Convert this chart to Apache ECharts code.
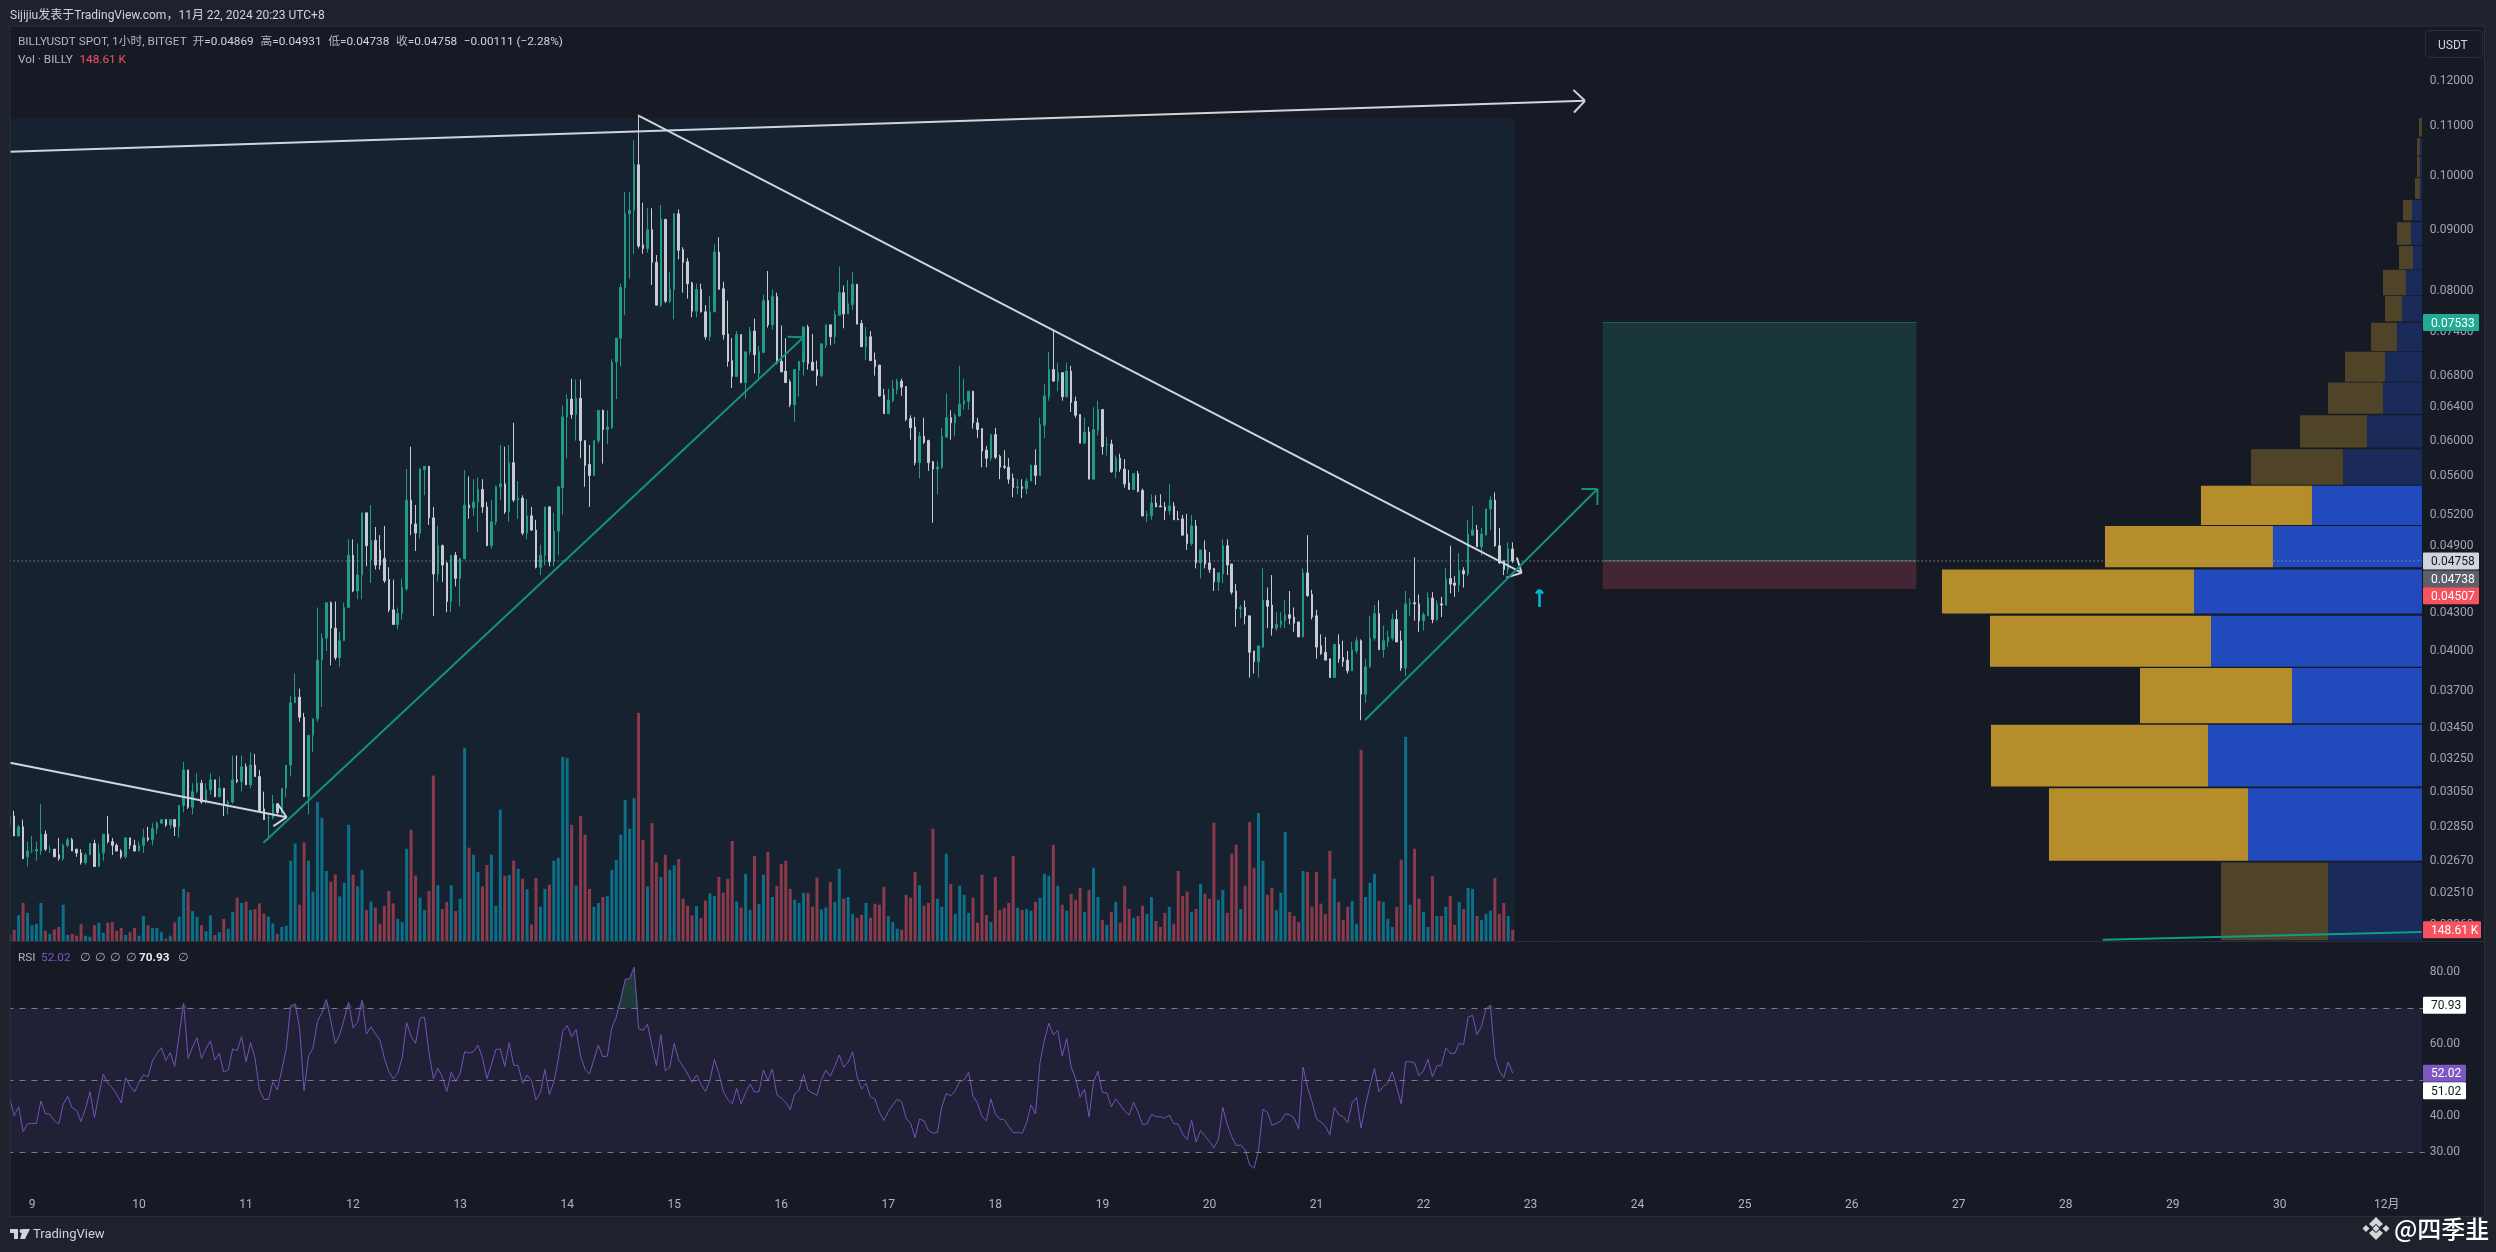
<!DOCTYPE html>
<html>
<head>
<meta charset="utf-8">
<style>html,body{margin:0;padding:0;background:#1e222d}#chart{width:2496px;height:1252px}</style>
<script src="https://cdn.jsdelivr.net/npm/echarts@6/dist/echarts.min.js"></script>
</head>
<body>
<div id="chart"></div>
<script>
// hourly bars, first bar is 5 hours before Nov 9 00:00
const firstHour = -5;
const slotCount = 542;
const dayTicks = ["9","10","11","12","13","14","15","16","17","18","19","20","21","22","23","24","25","26","27","28","29","30","12月"];

const opens = [.0286,.0291,.0280,.0285,.0269,.0272,.0272,.0272,.0281,.0273,
.0273,.0270,.0268,.0275,.0278,.0273,.0271,.0266,.0270,.0276,
.0264,.0271,.0281,.0277,.0275,.0272,.0269,.0279,.0275,.0272,
.0275,.0279,.0278,.0284,.0287,.0289,.0286,.0289,.0285,.0297,
.0318,.0296,.0305,.0310,.0299,.0306,.0312,.0302,.0307,.0298,
.0299,.0312,.0311,.0320,.0309,.0321,.0314,.0295,.0290,.0290,
.0298,.0293,.0307,.0321,.0362,.0366,.0352,.0302,.0340,.0351,
.0393,.0410,.0439,.0418,.0395,.0408,.0435,.0481,.0449,.0463,
.0522,.0477,.0495,.0486,.0478,.0459,.0433,.0421,.0430,.0451,
.0535,.0511,.0502,.0567,.0571,.0517,.0464,.0490,.0474,.0440,
.0481,.0460,.0478,.0530,.0527,.0533,.0546,.0528,.0490,.0513,
.0549,.0552,.0523,.0575,.0535,.0537,.0502,.0519,.0505,.0470,
.0481,.0528,.0475,.0504,.0548,.0628,.0650,.0631,.0651,.0600,
.0573,.0561,.0600,.0636,.0613,.0615,.0698,.0731,.0806,.0929,
.0935,.1021,.0875,.0869,.0901,.0846,.0779,.0919,.0785,.0803,
.0929,.0867,.0847,.0813,.0770,.0803,.0769,.0733,.0769,.0863,
.0804,.0737,.0700,.0679,.0736,.0671,.0712,.0741,.0683,.0711,
.0786,.0750,.0792,.0699,.0686,.0672,.0643,.0687,.0698,.0747,
.0698,.0688,.0680,.0721,.0750,.0733,.0764,.0798,.0766,.0780,
.0811,.0752,.0719,.0733,.0701,.0694,.0655,.0632,.0648,.0662,
.0673,.0666,.0626,.0616,.0575,.0605,.0600,.0576,.0568,.0570,
.0604,.0627,.0621,.0629,.0644,.0647,.0660,.0621,.0614,.0589,
.0580,.0607,.0582,.0571,.0570,.0558,.0548,.0549,.0547,.0555,
.0572,.0561,.0618,.0653,.0688,.0673,.0684,.0653,.0686,.0647,
.0631,.0597,.0610,.0557,.0612,.0637,.0595,.0596,.0565,.0580,
.0568,.0553,.0546,.0563,.0545,.0519,.0519,.0532,.0529,.0528,
.0524,.0529,.0516,.0516,.0501,.0492,.0509,.0474,.0486,.0474,
.0469,.0457,.0464,.0490,.0473,.0449,.0434,.0435,.0428,.0400,
.0392,.0403,.0441,.0437,.0418,.0421,.0424,.0429,.0427,.0423,
.0411,.0465,.0446,.0428,.0404,.0399,.0394,.0380,.0405,.0395,
.0393,.0385,.0400,.0408,.0368,.0388,.0410,.0430,.0401,.0407,
.0410,.0425,.0408,.0387,.0438,.0439,.0438,.0424,.0428,.0443,
.0425,.0438,.0437,.0460,.0456,.0454,.0467,.0464,.0500,.0505,
.0489,.0500,.0526,.0535,.0490,.0476,.0468,.04869];

const highs = [.0295,.0294,.0286,.0289,.0277,.0280,.0277,.0298,.0283,.0275,
.0273,.0279,.0276,.0279,.0279,.0273,.0273,.0271,.0276,.0278,
.0276,.0281,.0291,.0279,.0276,.0273,.0279,.0279,.0278,.0277,
.0284,.0285,.0287,.0288,.0289,.0289,.0289,.0289,.0297,.0323,
.0318,.0310,.0316,.0312,.0310,.0316,.0312,.0314,.0307,.0300,
.0327,.0327,.0327,.0322,.0329,.0328,.0318,.0305,.0293,.0303,
.0298,.0307,.0321,.0367,.0383,.0372,.0355,.0340,.0351,.0435,
.0414,.0439,.0440,.0440,.0415,.0439,.0496,.0496,.0492,.0522,
.0522,.0530,.0508,.0500,.0509,.0470,.0459,.0435,.0460,.0568,
.0593,.0530,.0569,.0571,.0571,.0528,.0509,.0491,.0475,.0481,
.0484,.0478,.0567,.0560,.0557,.0559,.0557,.0533,.0535,.0550,
.0595,.0593,.0595,.0621,.0555,.0540,.0536,.0528,.0515,.0491,
.0528,.0529,.0522,.0549,.0642,.0656,.0676,.0675,.0675,.0600,
.0595,.0600,.0636,.0637,.0636,.0702,.0731,.0812,.0969,.0969,
.1071,.1125,.0949,.0939,.0939,.0858,.0945,.0920,.0830,.0930,
.0937,.0871,.0853,.0815,.0812,.0812,.0779,.0793,.0876,.0888,
.0815,.0786,.0731,.0741,.0736,.0712,.0747,.0759,.0720,.0795,
.0832,.0803,.0798,.0749,.0731,.0675,.0688,.0699,.0747,.0750,
.0737,.0700,.0723,.0750,.0750,.0771,.0839,.0809,.0818,.0831,
.0811,.0757,.0747,.0741,.0711,.0694,.0663,.0663,.0674,.0676,
.0676,.0666,.0630,.0628,.0610,.0627,.0601,.0577,.0577,.0615,
.0657,.0636,.0632,.0693,.0676,.0660,.0660,.0627,.0614,.0594,
.0607,.0615,.0584,.0589,.0580,.0563,.0557,.0557,.0558,.0573,
.0590,.0627,.0669,.0712,.0742,.0697,.0684,.0697,.0693,.0653,
.0631,.0627,.0616,.0640,.0648,.0637,.0604,.0601,.0583,.0585,
.0579,.0567,.0563,.0566,.0547,.0524,.0541,.0540,.0541,.0533,
.0552,.0533,.0524,.0520,.0521,.0520,.0515,.0486,.0495,.0484,
.0469,.0465,.0496,.0496,.0473,.0455,.0437,.0441,.0428,.0400,
.0404,.0469,.0452,.0463,.0431,.0431,.0441,.0449,.0435,.0423,
.0469,.0500,.0450,.0433,.0413,.0411,.0394,.0405,.0413,.0408,
.0400,.0407,.0411,.0409,.0394,.0428,.0437,.0441,.0420,.0416,
.0430,.0433,.0416,.0449,.0443,.0479,.0446,.0431,.0448,.0448,
.0441,.0444,.0469,.0490,.0462,.0483,.0470,.0515,.0529,.0510,
.0507,.0526,.0539,.0543,.0507,.0476,.0493,.04931];

const lows = [.0284,.0280,.0280,.0268,.0264,.0271,.0267,.0270,.0272,.0271,
.0269,.0267,.0267,.0274,.0272,.0269,.0265,.0265,.0270,.0264,
.0264,.0267,.0276,.0270,.0272,.0268,.0268,.0273,.0272,.0272,
.0271,.0277,.0275,.0281,.0287,.0285,.0284,.0280,.0279,.0293,
.0295,.0292,.0304,.0298,.0298,.0303,.0302,.0302,.0291,.0292,
.0298,.0310,.0305,.0309,.0307,.0314,.0293,.0289,.0278,.0289,
.0292,.0292,.0302,.0314,.0362,.0349,.0302,.0292,.0329,.0349,
.0359,.0400,.0389,.0393,.0388,.0408,.0435,.0448,.0442,.0442,
.0471,.0456,.0468,.0468,.0456,.0431,.0421,.0417,.0425,.0449,
.0500,.0485,.0497,.0540,.0510,.0428,.0457,.0457,.0431,.0431,
.0453,.0436,.0477,.0516,.0519,.0503,.0522,.0490,.0487,.0510,
.0535,.0521,.0513,.0533,.0516,.0500,.0496,.0504,.0469,.0463,
.0472,.0471,.0471,.0481,.0520,.0580,.0626,.0600,.0580,.0549,
.0528,.0561,.0597,.0574,.0596,.0614,.0650,.0692,.0764,.0820,
.0860,.0869,.0860,.0862,.0810,.0779,.0776,.0782,.0782,.0758,
.0851,.0798,.0789,.0761,.0761,.0768,.0729,.0727,.0769,.0803,
.0729,.0692,.0664,.0679,.0670,.0650,.0708,.0683,.0675,.0711,
.0746,.0743,.0695,.0685,.0671,.0640,.0622,.0653,.0680,.0688,
.0687,.0667,.0678,.0717,.0721,.0723,.0764,.0745,.0766,.0772,
.0751,.0719,.0701,.0700,.0680,.0653,.0632,.0632,.0646,.0656,
.0654,.0623,.0601,.0572,.0558,.0596,.0566,.0512,.0541,.0568,
.0604,.0601,.0605,.0629,.0637,.0637,.0614,.0603,.0570,.0570,
.0577,.0579,.0557,.0568,.0552,.0538,.0541,.0537,.0541,.0555,
.0551,.0561,.0603,.0648,.0672,.0660,.0648,.0652,.0634,.0627,
.0597,.0597,.0557,.0557,.0606,.0584,.0583,.0564,.0558,.0565,
.0548,.0546,.0546,.0543,.0518,.0513,.0515,.0528,.0528,.0515,
.0520,.0515,.0515,.0500,.0486,.0490,.0469,.0460,.0469,.0465,
.0449,.0449,.0456,.0463,.0446,.0419,.0426,.0421,.0380,.0383,
.0380,.0402,.0418,.0412,.0416,.0418,.0418,.0421,.0415,.0411,
.0411,.0444,.0425,.0394,.0397,.0393,.0380,.0380,.0391,.0388,
.0383,.0385,.0398,.0350,.0362,.0387,.0408,.0401,.0395,.0403,
.0408,.0407,.0385,.0381,.0428,.0424,.0415,.0416,.0428,.0422,
.0424,.0427,.0437,.0447,.0444,.0448,.0452,.0462,.0500,.0489,
.0481,.0500,.0505,.0489,.0473,.0463,.0464,.04738];

const closes = [.0291,.0280,.0285,.0268,.0272,.0272,.0273,.0281,.0273,.0273,
.0269,.0268,.0275,.0278,.0272,.0271,.0266,.0270,.0276,.0264,
.0271,.0281,.0277,.0275,.0272,.0269,.0279,.0275,.0272,.0275,
.0279,.0278,.0284,.0287,.0289,.0286,.0289,.0285,.0297,.0318,
.0296,.0305,.0310,.0299,.0306,.0312,.0302,.0307,.0298,.0299,
.0312,.0311,.0320,.0309,.0321,.0314,.0294,.0289,.0290,.0298,
.0293,.0307,.0321,.0362,.0366,.0352,.0302,.0340,.0351,.0393,
.0410,.0439,.0418,.0395,.0408,.0435,.0481,.0449,.0463,.0522,
.0490,.0495,.0472,.0472,.0458,.0433,.0421,.0430,.0452,.0535,
.0511,.0502,.0568,.0571,.0517,.0464,.0490,.0472,.0440,.0481,
.0460,.0478,.0530,.0527,.0533,.0546,.0528,.0490,.0513,.0549,
.0552,.0523,.0575,.0535,.0537,.0502,.0519,.0505,.0470,.0481,
.0528,.0475,.0504,.0549,.0628,.0650,.0631,.0651,.0600,.0572,
.0561,.0600,.0636,.0613,.0616,.0698,.0731,.0806,.0929,.0935,
.1021,.0873,.0869,.0901,.0846,.0779,.0919,.0785,.0803,.0929,
.0866,.0846,.0812,.0770,.0803,.0769,.0733,.0769,.0863,.0803,
.0736,.0699,.0679,.0736,.0671,.0712,.0741,.0708,.0712,.0786,
.0750,.0792,.0697,.0685,.0671,.0643,.0688,.0699,.0747,.0696,
.0687,.0680,.0723,.0750,.0733,.0765,.0798,.0766,.0781,.0811,
.0751,.0719,.0733,.0700,.0692,.0654,.0632,.0649,.0663,.0673,
.0665,.0625,.0615,.0575,.0605,.0598,.0575,.0568,.0570,.0605,
.0627,.0621,.0630,.0644,.0648,.0660,.0621,.0613,.0588,.0580,
.0607,.0581,.0570,.0570,.0557,.0548,.0549,.0547,.0555,.0572,
.0561,.0619,.0654,.0688,.0673,.0684,.0653,.0686,.0646,.0630,
.0597,.0610,.0557,.0613,.0637,.0593,.0596,.0565,.0580,.0568,
.0552,.0546,.0563,.0544,.0519,.0520,.0532,.0528,.0528,.0524,
.0529,.0515,.0515,.0500,.0492,.0509,.0474,.0486,.0473,.0468,
.0457,.0465,.0490,.0472,.0448,.0434,.0435,.0428,.0399,.0392,
.0404,.0441,.0436,.0418,.0421,.0424,.0429,.0426,.0422,.0411,
.0465,.0445,.0427,.0403,.0398,.0393,.0380,.0405,.0394,.0392,
.0385,.0401,.0408,.0368,.0388,.0410,.0430,.0401,.0408,.0411,
.0425,.0407,.0387,.0438,.0439,.0438,.0424,.0429,.0443,.0425,
.0438,.0437,.0460,.0455,.0454,.0467,.0464,.0501,.0505,.0489,
.0501,.0526,.0535,.0490,.0474,.0468,.0487,.04758];

// volume in thousands
const volumes = [79,149,339,501,371,209,227,501,135,93,
153,186,478,79,93,70,223,70,56,209,
241,107,241,251,135,172,79,116,172,70,
329,209,172,172,116,32,70,246,320,687,
645,394,320,209,130,339,79,116,292,162,
385,571,501,520,408,418,496,362,325,232,
93,186,200,1058,1285,478,1299,1058,650,1833,
1624,923,780,877,589,766,1531,872,719,937,
408,520,441,227,464,659,496,292,251,1216,
1466,863,571,408,659,2181,733,422,515,733,
394,557,2547,1230,1137,909,719,1002,1137,464,
1731,858,872,1058,951,821,682,218,831,450,
687,742,1058,1095,2427,2413,1531,728,1647,1401,
687,450,501,580,594,937,1067,1401,1861,1480,
1884,3007,1332,719,1554,1035,844,1137,937,998,
1081,557,464,339,459,302,534,626,594,844,
636,821,1318,520,441,886,408,1123,487,872,
1174,580,728,1016,1058,687,543,501,636,636,
450,835,418,441,780,515,951,557,580,357,
306,343,501,306,492,478,715,329,251,162,
148,608,571,909,738,464,501,1480,557,450,
1151,752,357,728,608,371,571,241,872,343,
251,844,408,436,501,1123,436,408,422,399,
515,571,886,858,1267,728,478,399,622,543,
701,385,673,965,580,278,213,385,515,241,
728,422,306,329,464,357,580,264,186,371,
450,227,923,594,650,385,422,752,622,557,
1559,543,673,371,1151,1267,422,728,1568,965,
1689,1058,608,701,408,636,1438,385,329,251,
923,909,450,909,492,357,1188,821,515,278,
450,529,227,2520,580,766,886,529,515,292,
186,450,1072,2691,478,1216,557,385,186,858,
329,329,450,594,213,515,422,701,687,329,
278,357,399,831,357,501,329,148.61];

const rsi = [45.1,40.2,42.7,35.8,38.0,38.0,38.1,44.3,40.8,40.6,
38.9,37.9,43.4,45.6,42.4,41.7,38.6,42.2,46.9,39.7,
46.1,51.8,49.2,48.0,46.1,43.8,50.8,48.5,46.8,49.5,
51.6,51.0,55.4,57.5,59.1,55.6,57.7,53.9,62.7,71.5,
56.1,59.3,61.9,56.1,58.8,61.0,55.7,57.5,52.3,52.9,
58.8,58.3,62.2,55.2,60.5,56.3,47.3,44.8,44.7,49.6,
47.4,52.9,58.8,70.7,71.3,64.6,47.1,56.8,59.0,66.4,
68.8,72.5,66.6,60.3,62.7,67.1,71.7,64.6,66.1,72.3,
62.9,64.9,62.9,61.2,56.3,52.4,50.5,52.0,56.3,66.1,
62.2,60.3,67.3,67.6,57.8,50.5,53.4,51.0,46.9,52.3,
49.7,52.0,58.0,57.6,58.0,59.8,56.3,50.5,54.4,58.6,
58.8,53.9,60.5,54.2,54.2,49.2,51.5,50.0,44.6,46.6,
53.1,46.1,49.5,55.9,63.7,65.3,62.2,64.2,56.8,53.1,
51.8,55.9,59.8,56.6,56.8,64.6,67.6,72.5,78.1,78.3,
81.5,64.4,63.9,65.6,59.8,54.1,62.7,52.7,53.7,60.3,
55.7,53.9,51.8,49.5,51.5,49.0,46.9,50.0,55.9,52.0,
46.9,44.8,43.5,47.8,43.5,46.6,49.0,46.8,46.9,52.9,
50.0,53.1,46.1,45.1,43.9,41.9,46.3,47.3,51.7,47.3,
46.5,45.9,50.2,52.9,51.2,53.9,57.1,53.7,55.1,58.0,
51.0,47.6,49.2,45.4,44.9,41.2,38.9,41.4,43.2,44.8,
44.1,39.5,38.1,34.1,39.3,38.8,36.1,35.4,35.5,42.7,
46.4,45.7,47.1,49.7,50.2,52.3,45.6,43.7,40.0,38.8,
44.9,40.7,39.3,39.1,37.3,35.5,35.6,35.3,38.3,43.2,
40.7,54.9,61.2,65.9,62.7,63.9,56.8,61.7,53.7,50.5,
45.4,47.6,39.9,49.5,52.6,46.6,46.6,42.7,44.9,43.2,
41.5,40.4,43.9,41.2,37.8,37.9,40.6,40.0,39.9,39.5,
40.4,38.0,37.9,35.1,33.6,39.0,32.9,36.1,34.6,33.1,
31.3,33.6,42.5,37.8,34.4,31.9,32.1,30.7,26.6,25.6,
30.5,42.0,41.2,37.6,38.0,38.8,40.7,40.5,39.5,36.6,
53.7,48.0,44.1,39.3,38.5,37.3,34.9,42.5,40.5,39.9,
38.3,43.8,45.3,36.8,43.2,48.5,53.4,46.9,48.3,49.3,
52.4,48.0,43.5,55.2,55.2,54.9,51.3,52.7,55.9,51.0,
54.1,54.1,59.0,57.6,57.5,60.3,60.0,67.6,68.1,62.7,
65.1,69.8,70.9,56.6,52.6,50.8,55.1,52.02];

const priceTicks = [0.12,0.11,0.10,0.09,0.08,0.074,0.068,0.064,0.06,0.056,0.052,0.049,0.043,0.04,0.037,0.0345,0.0325,0.0305,0.0285,0.0267,0.0251,0.0236];
const rsiTicks = [80,60,40,30];
const rsiLevels = [70,50,30];

// volume profile rows, top to bottom
const vpHigh = [.1117,.1075,.1037,.0995,.0954,.0914,.0873,.0834,.0793,.0753,.0712,.0671,.0630,.0590,.0550,.0509,.0468,.0428,.0387,.0347,.0307,.0266];
const vpLow = [.1078,.1039,.0997,.0956,.0917,.0875,.0835,.0794,.0755,.0713,.0672,.0632,.0592,.0551,.0510,.0470,.0430,.0388,.0348,.0308,.0267,.0229];
const vpUp = [0,.2,.2,.2,1.0,1.1,.9,1.6,2.0,2.5,3.7,3.9,5.5,7.9,11.0,14.9,22.8,21.1,13.0,21.4,17.4,9.4];
const vpDown = [.3,.3,.3,.5,.9,1.4,1.4,2.3,1.7,2.6,4.0,5.5,6.7,9.2,11.1,16.8,25.2,22.1,15.2,21.7,19.9,10.7];
const valueAreaHigh = 0.0550;
const valueAreaLow = 0.0267;

// drawings, [hour, price] pairs
const ceilingLine = [[-4.9,.1047],[348.2,.1155]];
const fallingLine = [[136.1,.1122],[334,.04651]];
const earlyDownLine = [[-4.9,.03225],[57.1,.02903]];
const rallyLine = [[51.9,.02764],[173,.07323]];
const reboundLine = [[298.9,.03502],[351,.05466]];
const volMaLine = [[464.3,.02292],[535.8,.02327]];
const upMarker = [[338,.04354],[338,.0450]];
const lastPriceLine = [[-5,.04758],[536,.04758]];
const rangeHours = [-5.5,332.5];
const rangeTop = .1117;
const rangeBottom = .02287;
const positionHours = [352.2,422.5];
const targetPrice = .07533;
const entryPrice = .04758;
const stopPrice = .04507;

const barColors = { up: "#1f9b87", down: "#c8cad2", volUp: "#0c7088", volDown: "#8a3a4b" };

const chart = echarts.init(document.getElementById("chart"));

const categories = [];
for (let i = 0; i < slotCount; i++) categories.push(String(firstHour + i));

const candleData = opens.map((o, i) => [o, closes[i], lows[i], highs[i]]);

const drawings = [
  { pts: [[positionHours[0], targetPrice], [positionHours[1], targetPrice]], color: "#1e5f5a", width: 1 },
  { pts: [[positionHours[0], entryPrice], [positionHours[1], entryPrice]], color: "#5c6773", width: 1 },
  { pts: lastPriceLine, color: "#b2b5be", width: 1, dash: [1, 3] },
  { pts: ceilingLine, color: "#d1d4dc", width: 2, arrow: true },
  { pts: fallingLine, color: "#d1d4dc", width: 2, arrow: true },
  { pts: earlyDownLine, color: "#d1d4dc", width: 2, arrow: true },
  { pts: rallyLine, color: "#12917f", width: 2, arrow: true },
  { pts: reboundLine, color: "#12917f", width: 2, arrow: true },
  { pts: volMaLine, color: "#0f9d86", width: 2 },
  { pts: upMarker, color: "#00bcd4", width: 2.5, arrow: true, head: 5 },
];

function renderDrawing(params, api) {
  const d = drawings[params.dataIndex];
  const a = api.coord([api.value(0), api.value(1)]);
  const b = api.coord([api.value(2), api.value(3)]);
  const style = { stroke: d.color, lineWidth: d.width, lineDash: d.dash || null, fill: null };
  const children = [{ type: "line", shape: { x1: a[0], y1: a[1], x2: b[0], y2: b[1] }, style: style }];
  if (d.arrow) {
    const ang = Math.atan2(b[1] - a[1], b[0] - a[0]);
    const len = d.head || 16;
    [Math.PI * 0.75, -Math.PI * 0.75].forEach((off) => {
      children.push({
        type: "line",
        shape: { x1: b[0], y1: b[1], x2: b[0] + len * Math.cos(ang + off), y2: b[1] + len * Math.sin(ang + off) },
        style: style,
      });
    });
  }
  return { type: "group", children: children };
}

function renderProfile(params, api) {
  const top = api.coord([0, api.value(1)]);
  const bottom = api.coord([0, api.value(0)]);
  const mid = api.coord([api.value(2), api.value(1)]);
  const left = api.coord([api.value(2) + api.value(3), api.value(1)]);
  const inArea = api.value(1) <= valueAreaHigh && api.value(0) >= valueAreaLow;
  return {
    type: "group",
    children: [
      { type: "rect", shape: { x: mid[0], y: top[1], width: top[0] - mid[0], height: bottom[1] - top[1] }, style: { fill: inArea ? "#214bbd" : "#1a2b5a" } },
      { type: "rect", shape: { x: left[0], y: top[1], width: mid[0] - left[0], height: bottom[1] - top[1] }, style: { fill: inArea ? "#b58e2b" : "#4f4428" } },
    ],
  };
}

function renderBox(params, api) {
  const a = api.coord([api.value(0), api.value(2)]);
  const b = api.coord([api.value(1), api.value(3)]);
  return { type: "rect", shape: { x: a[0], y: a[1], width: b[0] - a[0], height: b[1] - a[1] }, style: { fill: api.value(4) === 0 ? "#162230" : api.value(4) === 1 ? "#193639" : "#442533" } };
}

// value tags on the right scale, shift moves stacked tags apart
function tagSeries(xIdx, yIdx, tags, width) {
  return {
    type: "custom",
    xAxisIndex: xIdx,
    yAxisIndex: yIdx,
    z: 12,
    silent: true,
    clip: false,
    encode: { x: 0, y: 1 },
    data: tags.map((t) => [0, t.value]),
    renderItem: function (params, api) {
      const t = tags[params.dataIndex];
      const p = api.coord([0, api.value(1)]);
      const y = p[1] + (t.shift || 0);
      return {
        type: "group",
        children: [
          { type: "rect", shape: { x: 2423, y: y - 8.5, width: width, height: 17, r: 1 }, style: { fill: t.bg } },
          { type: "text", style: { x: 2431, y: y + 1, text: t.text, fill: t.fg, font: "12px Roboto", textVerticalAlign: "middle" } },
        ],
      };
    },
  };
}

const priceTags = [
  { value: targetPrice, text: "0.07533", bg: "#22ab94", fg: "#fff" },
  { value: entryPrice, text: "0.04758", bg: "#d1d4dc", fg: "#131722" },
  { value: .04738, text: "0.04738", bg: "#5d606b", fg: "#fff", shift: 16 },
  { value: stopPrice, text: "0.04507", bg: "#f7525f", fg: "#fff", shift: 6.6 },
];
const volTags = [{ value: volumes[volumes.length - 1], text: "148.61 K", bg: "#f7525f", fg: "#fff" }];
const rsiTags = [
  { value: 70.93, text: "70.93", bg: "#fff", fg: "#131722" },
  { value: 52.02, text: "52.02", bg: "#7e57c2", fg: "#fff" },
  { value: 51.02, text: "51.02", bg: "#fff", fg: "#131722", shift: 14 },
];

const legendRich = {
  g: { fill: "#b2b5be", font: "11.8px Roboto, 'Noto Sans CJK SC'" },
  v: { fill: "#d1d4dc", font: "11.8px Roboto, 'Noto Sans CJK SC'" },
  r: { fill: "#f7525f", font: "11.8px Roboto" },
};

// RSI legend items placed one by one
const rsiLegend = [
  { x: 18, text: "RSI", fill: "#b2b5be" },
  { x: 41, text: "52.02", fill: "#7e57c2" },
  { x: 80, text: "∅", fill: "#b2b5be" },
  { x: 95, text: "∅", fill: "#b2b5be" },
  { x: 110, text: "∅", fill: "#b2b5be" },
  { x: 126, text: "∅", fill: "#b2b5be" },
  { x: 139, text: "70.93", fill: "#e8e9ee", weight: "bold " },
  { x: 178, text: "∅", fill: "#b2b5be" },
];

const option = {
  backgroundColor: "#1e222d",
  animation: false,
  grid: [
    { left: 7.47, top: 26, width: 2417.3, height: 915 },
    { left: 7.47, top: 641, width: 2417.3, height: 300 },
    { left: 7.47, top: 942, width: 2417.3, height: 253 },
  ],
  xAxis: [
    { type: "category", gridIndex: 0, data: categories, show: false },
    { type: "value", gridIndex: 0, min: firstHour - 0.5, max: firstHour + slotCount - 0.5, show: false },
    { type: "value", gridIndex: 0, inverse: true, min: -0.28, max: 241.45, show: false },
    { type: "category", gridIndex: 1, data: categories, show: false },
    {
      type: "category",
      gridIndex: 2,
      data: categories,
      axisLine: { show: false },
      axisTick: { show: false },
      axisLabel: {
        color: "#b2b5be",
        fontFamily: "Roboto, 'Noto Sans CJK SC'",
        fontSize: 12,
        margin: 3.5,
        interval: (idx) => (idx + firstHour) % 24 === 0,
        formatter: (val) => dayTicks[Number(val) / 24] || "",
      },
    },
  ],
  yAxis: [
    {
      type: "log",
      gridIndex: 0,
      min: 0.02287,
      max: 0.13342,
      position: "right",
      z: 6,
      axisLine: { show: false },
      axisTick: { show: false },
      splitLine: { show: false },
      axisLabel: {
        color: "#a3a6af",
        fontFamily: "Roboto",
        fontSize: 12,
        margin: 5,
        padding: [3, 0, 0, 0],
        customValues: priceTicks,
        formatter: (v) => Number(v).toFixed(5),
      },
    },
    { type: "value", gridIndex: 1, min: 0, max: 3954, show: false },
    {
      type: "value",
      gridIndex: 2,
      min: 18.19,
      max: 88.47,
      position: "right",
      z: 6,
      axisLine: { show: false },
      axisTick: { show: false },
      splitLine: { show: false },
      axisLabel: {
        color: "#a3a6af",
        fontFamily: "Roboto",
        fontSize: 12,
        margin: 5,
        padding: [3, 0, 0, 0],
        customValues: rsiTicks,
        formatter: (v) => Number(v).toFixed(2),
      },
    },
  ],
  series: [
    {
      type: "custom",
      xAxisIndex: 1,
      yAxisIndex: 0,
      z: 1,
      silent: true,
      encode: { x: [0, 1], y: [2, 3] },
      data: [
        [rangeHours[0], rangeHours[1], rangeTop, rangeBottom, 0],
        [positionHours[0], positionHours[1], targetPrice, entryPrice, 1],
        [positionHours[0], positionHours[1], entryPrice, stopPrice, 2],
      ],
      renderItem: renderBox,
    },
    {
      type: "custom",
      xAxisIndex: 2,
      yAxisIndex: 0,
      z: 1,
      silent: true,
      encode: { x: [2, 3], y: [0, 1] },
      data: vpHigh.map((h, i) => [vpLow[i], h, vpUp[i], vpDown[i]]),
      renderItem: renderProfile,
    },
    {
      type: "bar",
      xAxisIndex: 3,
      yAxisIndex: 1,
      z: 2,
      barWidth: 3,
      silent: true,
      data: volumes,
      itemStyle: { color: (p) => (closes[p.dataIndex] >= opens[p.dataIndex] ? barColors.volUp : barColors.volDown) },
    },
    {
      type: "candlestick",
      xAxisIndex: 0,
      yAxisIndex: 0,
      z: 3,
      barWidth: 2,
      silent: true,
      data: candleData,
      itemStyle: {
        color: barColors.up,
        color0: barColors.down,
        borderColor: barColors.up,
        borderColor0: barColors.down,
        borderWidth: 1,
      },
    },
    {
      type: "custom",
      xAxisIndex: 1,
      yAxisIndex: 0,
      z: 4,
      silent: true,
      clip: true,
      encode: { x: [0, 2], y: [1, 3] },
      data: drawings.map((d) => [d.pts[0][0], d.pts[0][1], d.pts[1][0], d.pts[1][1]]),
      renderItem: renderDrawing,
    },
    {
      type: "line",
      xAxisIndex: 4,
      yAxisIndex: 2,
      z: 3,
      silent: true,
      symbol: "none",
      data: rsi,
      lineStyle: { color: "#7353b8", width: 1 },
      markArea: {
        silent: true,
        itemStyle: { color: "#202036" },
        data: [[{ yAxis: 70 }, { yAxis: 30 }]],
      },
      markLine: {
        silent: true,
        symbol: "none",
        label: { show: false },
        lineStyle: { color: "#787b86", type: [6, 6], width: 1 },
        data: rsiLevels.map((v) => ({ yAxis: v })),
      },
    },
    {
      // overbought fill above the 70 line
      type: "line",
      xAxisIndex: 4,
      yAxisIndex: 2,
      z: 2,
      silent: true,
      symbol: "none",
      data: rsi.map((v) => Math.max(v, 70)),
      lineStyle: { opacity: 0 },
      areaStyle: { origin: 70, color: "#1f3a38", opacity: 1 },
    },
    tagSeries(1, 0, priceTags, 56),
    tagSeries(3, 1, volTags, 58),
    tagSeries(4, 2, rsiTags, 43),
  ],
  graphic: [
    { type: "rect", z: -10, shape: { x: 10, y: 26, width: 2474, height: 1190 }, style: { fill: "#161a25" } },
    { type: "rect", z: 5, shape: { x: 2422, y: 26, width: 62, height: 1170 }, style: { fill: "#161a25" } },
    { type: "rect", z: 50, shape: { x: 0, y: 0, width: 10, height: 1252 }, style: { fill: "#1e222d" } },
    { type: "line", z: 51, shape: { x1: 10, y1: 26, x2: 2484, y2: 26 }, style: { stroke: "#2a2e39", lineWidth: 1 } },
    { type: "line", z: 51, shape: { x1: 10, y1: 26, x2: 10, y2: 1216 }, style: { stroke: "#2a2e39", lineWidth: 1 } },
    { type: "line", z: 51, shape: { x1: 2484.5, y1: 26, x2: 2484.5, y2: 1216 }, style: { stroke: "#2a2e39", lineWidth: 1 } },
    { type: "line", z: 51, shape: { x1: 10, y1: 1216.5, x2: 2484, y2: 1216.5 }, style: { stroke: "#2a2e39", lineWidth: 1 } },
    { type: "line", z: 6, shape: { x1: 10, y1: 941.5, x2: 2484, y2: 941.5 }, style: { stroke: "#2a2e39", lineWidth: 1 } },
    { type: "rect", z: 51, shape: { x: 2425.5, y: 30.5, width: 57, height: 27, r: 4 }, style: { fill: "#161a25", stroke: "#2a2e39", lineWidth: 1 } },
    { type: "text", z: 52, style: { x: 2438, y: 45.5, text: "USDT", fill: "#d1d4dc", font: "12px Roboto", textVerticalAlign: "middle" } },
    { type: "text", z: 52, style: { x: 10, y: 15.5, text: "Sijijiu发表于TradingView.com，11月 22, 2024 20:23 UTC+8", fill: "#d1d4dc", font: "12px Roboto, 'Noto Sans CJK SC'", textVerticalAlign: "middle" } },
    {
      type: "text", z: 52,
      style: {
        x: 18, y: 42.5, textVerticalAlign: "middle", rich: legendRich,
        text: "{g|BILLYUSDT SPOT, 1小时, BITGET  开}{v|=0.04869}  {g|高}{v|=0.04931}  {g|低}{v|=0.04738}  {g|收}{v|=0.04758}  {v|−0.00111 (−2.28%)}",
      },
    },
    { type: "text", z: 52, style: { x: 18, y: 60.5, textVerticalAlign: "middle", rich: legendRich, text: "{g|Vol · BILLY}  {r|148.61 K}" } },
  ].concat(rsiLegend.map((it) => ({
    type: "text", z: 52,
    style: { x: it.x, y: 958.5, text: it.text, fill: it.fill, font: (it.weight || "") + "11.8px Roboto, 'DejaVu Sans'", textVerticalAlign: "middle" },
  }))).concat([
    // TradingView mark
    { type: "rect", z: 52, shape: { x: 10, y: 1229, width: 8, height: 4 }, style: { fill: "#d1d4dc" } },
    { type: "rect", z: 52, shape: { x: 14, y: 1229, width: 4, height: 10 }, style: { fill: "#d1d4dc" } },
    { type: "circle", z: 52, shape: { cx: 21.5, cy: 1231, r: 2 }, style: { fill: "#d1d4dc" } },
    { type: "polygon", z: 52, shape: { points: [[23, 1229], [30, 1229], [25, 1239], [20, 1239]] }, style: { fill: "#d1d4dc" } },
    { type: "text", z: 52, style: { x: 33, y: 1234.5, text: "TradingView", fill: "#d1d4dc", font: "13px Roboto", textVerticalAlign: "middle" } },
    // watermark
    { type: "polygon", z: 60, shape: { points: [[2376, 1217], [2383, 1224], [2379.5, 1227], [2376, 1224], [2372.5, 1227], [2369, 1224]] }, style: { fill: "#d5d5d5" } },
    { type: "polygon", z: 60, shape: { points: [[2376, 1240], [2383, 1233], [2379.5, 1230], [2376, 1233], [2372.5, 1230], [2369, 1233]] }, style: { fill: "#d5d5d5" } },
    { type: "polygon", z: 60, shape: { points: [[2376, 1225], [2379.5, 1228.5], [2376, 1232], [2372.5, 1228.5]] }, style: { fill: "#d5d5d5" } },
    { type: "polygon", z: 60, shape: { points: [[2366, 1225], [2369.5, 1228.5], [2366, 1232], [2362.5, 1228.5]] }, style: { fill: "#d5d5d5" } },
    { type: "polygon", z: 60, shape: { points: [[2386, 1225], [2389.5, 1228.5], [2386, 1232], [2382.5, 1228.5]] }, style: { fill: "#d5d5d5" } },
    { type: "text", z: 60, style: { x: 2394, y: 1228.5, text: "@四季韭", fill: "#ffffff", font: "500 24px 'Noto Sans CJK SC'", textVerticalAlign: "middle" } },
  ]),
};

chart.setOption(option);
</script>
</body>
</html>
